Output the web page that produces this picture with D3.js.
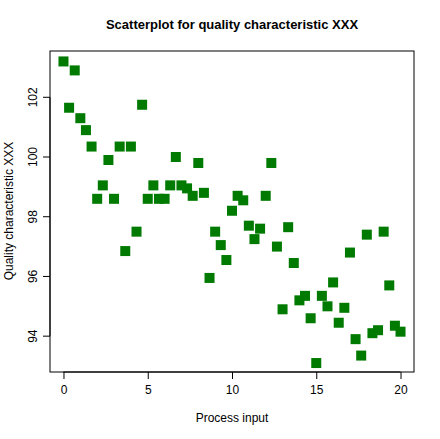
<!DOCTYPE html><html><head><meta charset="utf-8"><script src="https://cdn.jsdelivr.net/npm/d3@7"></script>
<style>body{margin:0;background:#fff}text{font-family:"Liberation Sans",Arial,sans-serif}</style></head><body>
<svg id="c" width="440" height="439"></svg>
<script>
const title="Scatterplot for quality characteristic XXX";
const xLabel="Process input";
const yLabel="Quality characteristic XXX";
const xTicks=[0,5,10,15,20];
const yTicks=[94,96,98,100,102];
const yValues=[103.2,101.65,102.9,101.3,100.9,100.35,98.6,99.05,99.9,98.6,100.35,96.85,100.35,97.5,101.75,98.6,99.05,98.6,98.6,99.05,100.0,99.05,98.95,98.7,99.8,98.8,95.95,97.5,97.05,96.55,98.2,98.7,98.55,97.7,97.25,97.6,98.7,99.8,97.0,94.9,97.65,96.45,95.2,95.35,94.6,93.1,95.35,95.0,95.8,94.45,94.95,96.8,93.9,93.35,97.4,94.1,94.2,97.5,95.7,94.35,94.15];
const xValues=yValues.map((d,i)=>i/3);
const svg=d3.select("#c");
const L=50,R=414,T=51,B=372;
const x=d3.scaleLinear().domain([-0.8,20.8]).range([L,R]);
const y=d3.scaleLinear().domain([92.8,103.55]).range([B,T]);
svg.append("rect").attr("x",L).attr("y",T).attr("width",R-L).attr("height",B-T).attr("fill","none").attr("stroke","#000");
svg.append("g").attr("transform",`translate(0,${B})`).call(d3.axisBottom(x).tickValues(xTicks).tickSize(7).tickPadding(6)).call(g=>{g.select(".domain").attr("d",`M${x(0)},0H${x(20)}`);g.selectAll("text").attr("font-size",12).attr("fill","#000")});
svg.append("g").attr("transform",`translate(${L},0)`).call(d3.axisLeft(y).tickValues(yTicks).tickSize(7).tickPadding(6)).call(g=>{g.select(".domain").attr("d",`M0,${y(94)}V${y(102)}`);g.selectAll("text").attr("font-size",12).attr("fill","#000").attr("transform",function(){return null}).each(function(d){d3.select(this).attr("transform",`rotate(-90,-13,${y(d)})`).attr("x",-13).attr("y",y(d)).attr("dy","0").attr("text-anchor","middle")})});
svg.selectAll(".tick text").filter(function(){return this.parentNode.parentNode.getAttribute("transform").startsWith("translate(50")}).each(function(d){const t=d3.select(this);const p=d3.select(this.parentNode);p.attr("transform",null);t.attr("x",0).attr("y",0).attr("transform",`translate(-13,${y(d)}) rotate(-90)`);p.select("line").attr("transform",`translate(0,${y(d)})`)});
svg.append("g").selectAll("rect").data(yValues).join("rect").attr("x",(d,i)=>x(xValues[i])-5).attr("y",d=>y(d)-5).attr("width",10).attr("height",10).attr("fill","#007a00");
svg.append("text").attr("x",232).attr("y",29).attr("text-anchor","middle").attr("font-size",13).attr("font-weight","bold").text(title);
svg.append("text").attr("x",232).attr("y",422).attr("text-anchor","middle").attr("font-size",12).text(xLabel);
svg.append("text").attr("transform","translate(13,211) rotate(-90)").attr("text-anchor","middle").attr("font-size",12).text(yLabel);
</script></body></html>
